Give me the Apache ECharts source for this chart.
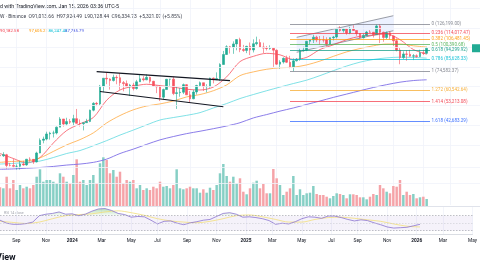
<!DOCTYPE html>
<html>
<head>
<meta charset="utf-8">
<script src="https://cdn.jsdelivr.net/npm/echarts@6/dist/echarts.min.js"></script>
<style>
  html, body { margin: 0; padding: 0; background: #fff; }
  #main { width: 480px; height: 270px; }
</style>
</head>
<body>
<div id="main"></div>
<script>
// weekly BTCUSDT, Binance — one row per week: [open, high, low, close]
const firstWeek = Date.UTC(2023, 6, 31);
const totalWeeks = 145; // 129 real weeks + empty space on the right
const candles = [
  [29230, 29750, 28580, 29040], [29040, 30240, 28700, 29410], [29410, 29690, 25170, 26100], [26100, 26830, 25800, 26090],
  [26090, 28140, 25330, 25830], [25830, 26410, 24900, 25840], [25840, 27480, 24930, 26530], [26530, 27480, 26010, 26250],
  [26250, 28050, 26000, 27970], [27970, 28580, 27170, 27920], [27920, 27990, 26540, 27150], [27150, 30400, 26960, 29980],
  [29980, 35280, 29880, 34530], [34530, 35980, 33390, 35010], [35010, 38000, 34530, 37060], [37060, 37980, 34800, 37420],
  [37420, 38440, 35630, 37450], [37450, 40250, 36870, 39970], [39970, 44700, 39970, 43790], [43790, 43800, 40220, 41380],
  [41380, 44400, 40500, 42520], [42520, 43800, 41420, 42280], [42280, 45880, 40750, 43960], [43960, 48970, 41500, 41730],
  [41730, 43580, 40280, 41580], [41580, 42200, 38560, 42030], [42030, 43880, 41880, 42580], [42580, 48590, 42260, 48300],
  [48300, 52820, 47700, 52140], [52140, 52990, 50520, 51730], [51730, 64000, 50900, 63110], [63110, 69000, 59000, 68950],
  [68950, 73780, 64550, 68390], [68390, 68920, 60760, 67210], [67210, 71770, 66480, 69650], [69650, 71300, 64500, 69360],
  [69360, 72800, 60660, 65660], [65660, 66870, 59600, 64940], [64940, 67230, 62450, 63110], [63110, 64730, 56550, 63890],
  [63890, 65500, 60190, 61480], [61480, 67700, 60750, 66270], [66270, 71950, 66100, 68510], [68510, 70600, 66600, 67760],
  [67760, 71990, 67470, 69650], [69650, 70200, 65080, 66680], [66680, 66990, 63100, 63210], [63210, 63340, 58400, 62680],
  [62680, 63800, 53480, 55850], [55850, 61400, 54260, 60790], [60790, 68400, 60630, 68170], [68170, 68480, 63400, 68250],
  [68250, 70080, 57120, 58160], [58160, 62740, 49000, 58710], [58710, 61800, 56100, 59000], [59000, 65000, 57800, 64200],
  [64200, 64500, 57200, 57300], [57300, 59800, 52550, 54850], [54850, 60650, 54560, 59160], [59160, 64100, 57500, 63600],
  [63600, 66500, 62700, 65600], [65600, 65600, 59800, 62850], [62850, 64500, 58900, 62850], [62850, 69400, 62050, 69030],
  [69030, 69500, 65100, 68000], [68000, 73600, 67500, 68740], [68740, 81500, 66800, 80370], [80370, 93480, 80200, 89850],
  [89850, 99590, 89380, 97900], [97900, 98870, 90800, 97300], [97300, 104000, 90500, 101100], [101100, 106500, 94150, 106060],
  [106060, 108350, 92200, 94900], [94900, 99960, 92500, 94000], [94000, 99000, 91200, 98400], [98400, 102700, 89250, 94500],
  [94500, 106400, 91900, 101300], [101300, 109600, 99500, 102600], [102600, 106450, 97500, 97700], [97700, 102500, 91230, 96460],
  [96460, 98800, 94000, 96100], [96100, 99500, 94800, 96250], [96250, 96500, 78250, 94270], [94270, 95000, 80000, 80700],
  [80700, 84360, 76600, 82600], [82600, 87000, 81200, 86100], [86100, 88750, 81650, 82400], [82400, 88500, 77100, 78400],
  [78400, 86100, 74508, 83700], [83700, 86400, 83100, 85200], [85200, 95750, 83900, 93700], [93700, 97900, 92800, 94300],
  [94300, 104300, 93300, 104100], [104100, 105800, 100700, 105600], [105600, 111980, 102100, 109000], [109000, 110700, 103100, 105700],
  [105700, 110400, 100400, 105600], [105600, 110600, 102700, 105500], [105500, 108900, 98200, 100900], [100900, 108500, 100300, 108400],
  [108400, 110500, 105100, 109200], [109200, 119500, 107400, 119100], [119100, 123200, 115700, 117300], [117300, 120200, 114700, 119400],
  [119400, 119800, 112000, 114200], [114200, 122300, 112700, 119300], [119300, 124500, 116800, 117400], [117400, 117600, 110600, 113500],
  [113500, 113700, 107300, 108300], [108300, 113400, 107300, 111150], [111150, 116800, 110600, 115300], [115300, 117900, 114700, 115200],
  [115200, 115400, 108600, 112100], [112100, 125700, 111600, 123500], [123500, 126199, 102000, 115100], [115100, 115900, 103500, 108600],
  [108600, 116000, 106700, 114500], [114500, 116400, 106300, 110500], [110500, 110600, 98900, 104700], [104700, 107500, 93000, 94300],
  [94300, 96600, 80600, 86800], [86800, 93100, 85300, 90400], [90400, 94200, 83800, 90000], [90000, 94600, 87600, 88200],
  [88200, 90300, 84400, 88600], [88600, 90000, 86600, 87800], [87800, 94800, 87200, 91500], [91500, 94700, 89300, 91013.66],
  [91013.66, 97924.49, 90128.44, 96334.73]
];
// weekly volume, thousand BTC
const volumes = [
  187, 177, 293, 177, 260, 160, 210, 177, 193, 177, 210, 293, 367, 243, 260, 260, 243, 227, 327, 293,
  243, 227, 310, 467, 243, 260, 210, 260, 310, 227, 427, 487, 460, 327, 360, 293, 343, 227, 260, 243,
  260, 177, 210, 160, 177, 160, 193, 177, 243, 193, 200, 177, 210, 367, 177, 167, 177, 193, 177, 177,
  133, 167, 133, 183, 160, 210, 327, 420, 300, 243, 293, 227, 277, 143, 117, 177, 233, 253, 177, 220,
  127, 127, 370, 277, 210, 110, 143, 177, 300, 110, 167, 110, 127, 133, 200, 120, 110, 110, 93, 77,
  100, 127, 120, 110, 77, 117, 117, 110, 87, 87, 67, 93, 120, 110, 210, 177, 143, 127, 200, 193,
  260, 110, 143, 110, 120, 77, 87, 93, 70
];
// moving averages read every 4 weeks
const maStep = 4;
const maRed = [29800, 28200, 26800, 28500, 33500, 38500, 41500, 44500, 54000, 60500, 63000, 64500, 63500, 62500, 61000, 60500, 62500,
  70000, 83000, 88000, 91000, 89500, 85000, 87000, 95000, 100000, 106000, 110000, 111500, 113000, 106000, 95000, 90182.58];
const maOrange = [27000, 27300, 27400, 28400, 30500, 32800, 34800, 37500, 41900, 45500, 48500, 50600, 51800, 53500, 56000, 57500, 60000,
  64000, 71000, 74000, 76200, 77500, 78000, 80000, 83500, 88000, 92500, 96000, 99000, 101000, 101000, 99000, 97605.21];
const maCyan = [26500, 26700, 27000, 27400, 28500, 29800, 30800, 32500, 34400, 36600, 38700, 41000, 43300, 44500, 45600, 47000, 49500,
  52000, 55000, 57500, 60000, 62500, 65000, 67500, 71000, 75000, 79000, 82500, 85000, 86500, 87200, 87000, 86247.43];
const maPurple = [25000, 25100, 25300, 25500, 25800, 26200, 26500, 27000, 28000, 29800, 31300, 33000, 34700, 36000, 37200, 38200, 39300,
  40500, 42000, 44300, 46000, 47800, 49500, 51500, 53500, 55700, 57800, 60000, 62200, 64200, 66000, 67200, 67785.79];
// RSI read every 2 weeks, its moving average every 4 weeks
const rsiStep = 2;
const rsiValues = [58, 50, 47, 47, 49, 53, 70, 74, 76, 80, 74, 75, 70, 74, 82, 88, 89, 84, 76, 73, 66, 68, 67, 58, 48, 55, 56, 50, 46,
  51, 54, 58, 60, 68, 76, 78, 74, 66, 67, 65, 62, 57, 47, 50, 48, 54, 62, 67, 66, 63, 69, 69, 65, 60, 56, 59, 57, 51, 46, 40, 37, 38,
  39, 43, 47];
const rsiMaStep = 4;
const rsiMa = [55, 52, 49, 53, 62, 70, 73, 75, 80, 83, 78, 71, 62, 56, 53, 51, 55, 62, 70, 72, 67, 60, 53, 53, 60, 65, 66, 63, 59, 55,
  48, 42, 40];
// fibonacci levels (from the Apr 2025 low to the Oct 2025 high)
const fibLevels = ['0', '0.236', '0.382', '0.5', '0.618', '0.786', '1', '1.272', '1.414', '1.618'];
const fibPrices = [126199.00, 114017.47, 106481.45, 100390.68, 94299.92, 85628.33, 74582.37, 60542.64, 53213.08, 42683.29];
const fibColors = ['#787b86', '#f23645', '#ff9800', '#4caf50', '#089981', '#00bcd4', '#787b86', '#f5a623', '#f23645', '#2962ff'];
const fibFrom = 87, fibTo = 129;
// hand drawn lines: [week index, price]
const flagUpper = [[29, 74300], [69, 67100]];
const flagLower = [[30, 59500], [67, 50200]];
const channelUpper = [[89, 108800], [118, 138400]];
const channelLower = [[89, 92100], [118, 117100]];
const priceGrid = [21400, 25700, 32800, 41000, 50800, 63000, 78000, 97000, 121000, 150000];
const monthNames = ['Jan', 'Feb', 'Mar', 'Apr', 'May', 'Jun', 'Jul', 'Aug', 'Sep', 'Oct', 'Nov', 'Dec'];

const weeks = [];
for (let i = 0; i < totalWeeks; i++) {
  weeks.push(new Date(firstWeek + i * 7 * 864e5).toISOString().slice(0, 10));
}
const monthOf = i => Number(weeks[i].slice(5, 7)) - 1;
const isTick = i => i > 0 && monthOf(i) !== monthOf(i - 1) && monthOf(i) % 2 === 0;

const upColor = '#22ab94', downColor = '#f7525f';
const fmt = v => v.toLocaleString('en-US', {minimumFractionDigits: 2, maximumFractionDigits: 2});
const stepped = (arr, step) => arr.map((v, k) => [k * step, v]);

var chartDom = document.getElementById('main');
var myChart = echarts.init(chartDom);
var option;

const baseX = {
  type: 'category', data: weeks, boundaryGap: false,
  axisLine: {show: false}, axisTick: {show: false}, axisLabel: {show: false},
  splitLine: {show: true, interval: idx => isTick(idx), lineStyle: {color: '#f0f3fa', width: 0.8}}
};

const fibMarks = fibPrices.map((p, k) => [
  {
    coord: [fibFrom, p],
    lineStyle: {color: fibColors[k], width: 0.8, type: 'solid', opacity: 0.9},
    label: {show: true, position: 'end', distance: 1.5, formatter: fibLevels[k] + ' (' + fmt(p) + ')',
      color: fibColors[k], fontSize: 4.6, fontFamily: 'Roboto'}
  },
  {coord: [fibTo, p]}
]);
const gridMarks = priceGrid.map(p => [
  {coord: [0, p], lineStyle: {color: '#f0f3fa', width: 0.8, type: 'solid'}, label: {show: false}},
  {coord: [totalWeeks - 1, p]}
]);
const drawnMarks = [flagUpper, flagLower].map(l => [
  {coord: l[0], lineStyle: {color: '#131722', width: 1.2, type: 'solid'}, label: {show: false}},
  {coord: l[1]}
]);

option = {
  animation: false,
  backgroundColor: '#ffffff',
  grid: [
    {left: 0, top: 0, width: 483.4, height: 205},
    {left: 0, top: 106, width: 483.4, height: 100},
    {left: 0, top: 207, width: 483.4, height: 27}
  ],
  xAxis: [
    Object.assign({gridIndex: 0}, baseX),
    Object.assign({}, baseX, {gridIndex: 1, splitLine: {show: false}}),
    Object.assign({}, baseX, {
      gridIndex: 2,
      axisLine: {show: true, lineStyle: {color: '#d1d4dc', width: 0.8}},
      axisLabel: {
        show: true, interval: idx => isTick(idx), margin: 4, fontSize: 4.8, color: '#131722', fontFamily: 'Roboto',
        formatter: v => {
          const m = Number(v.slice(5, 7)) - 1;
          return m === 0 ? '{y|' + v.slice(0, 4) + '}' : monthNames[m];
        },
        rich: {y: {fontSize: 4.8, fontWeight: 'bold', color: '#131722', fontFamily: 'Roboto'}}
      }
    })
  ],
  yAxis: [
    {gridIndex: 0, type: 'log', logBase: 10, min: 16790, max: 164910, show: false},
    {gridIndex: 1, type: 'value', min: 0, max: 1000, show: false},
    {gridIndex: 2, type: 'value', min: 21.2, max: 93.2, show: false}
  ],
  series: [
    {
      name: 'Volume', type: 'bar', xAxisIndex: 1, yAxisIndex: 1, barWidth: '74%', z: 1,
      data: volumes.map((v, i) => ({
        value: v,
        itemStyle: {color: candles[i][3] >= candles[i][0] ? '#86cfc5' : '#f5a3a8'}
      }))
    },
    {
      name: 'Channel', type: 'custom', xAxisIndex: 0, yAxisIndex: 0, z: 3,
      data: [[channelUpper[0][0], channelUpper[0][1], channelLower[0][1], channelUpper[1][0], channelUpper[1][1], channelLower[1][1]]],
      encode: {x: 0, y: 1},
      renderItem: (params, api) => {
        const a = api.coord([api.value(0), api.value(1)]);
        const b = api.coord([api.value(3), api.value(4)]);
        const c = api.coord([api.value(3), api.value(5)]);
        const d = api.coord([api.value(0), api.value(2)]);
        return {
          type: 'group', children: [
            {type: 'polygon', shape: {points: [a, b, c, d]}, style: {fill: 'rgba(41,98,255,0.09)'}},
            {type: 'line', shape: {x1: a[0], y1: a[1], x2: b[0], y2: b[1]}, style: {stroke: '#80848e', lineWidth: 0.8}},
            {type: 'line', shape: {x1: d[0], y1: d[1], x2: c[0], y2: c[1]}, style: {stroke: '#80848e', lineWidth: 0.8}}
          ]
        };
      }
    },
    {
      name: 'BTCUSDT', type: 'candlestick', xAxisIndex: 0, yAxisIndex: 0, barWidth: '66%', z: 4,
      data: candles.map(c => [c[0], c[3], c[2], c[1]]),
      itemStyle: {color: upColor, color0: downColor, borderColor: upColor, borderColor0: downColor, borderWidth: 0.6},
      markLine: {
        silent: true, symbol: 'none', animation: false,
        data: gridMarks.concat(fibMarks, drawnMarks)
      },
      markPoint: {
        silent: true,
        data: [{coord: [totalWeeks - 1, candles[candles.length - 1][3]], symbol: 'rect', symbolSize: [16, 8],
          itemStyle: {color: upColor}, label: {show: false}}]
      }
    },
    {name: 'MA1', type: 'line', xAxisIndex: 0, yAxisIndex: 0, smooth: 0.3, showSymbol: false, z: 3,
      data: stepped(maRed, maStep), lineStyle: {color: '#f7525f', width: 0.8}},
    {name: 'MA2', type: 'line', xAxisIndex: 0, yAxisIndex: 0, smooth: 0.3, showSymbol: false, z: 3,
      data: stepped(maOrange, maStep), lineStyle: {color: '#ffa940', width: 0.8}},
    {name: 'MA3', type: 'line', xAxisIndex: 0, yAxisIndex: 0, smooth: 0.3, showSymbol: false, z: 3,
      data: stepped(maCyan, maStep), lineStyle: {color: '#5fd9e0', width: 0.8}},
    {name: 'MA4', type: 'line', xAxisIndex: 0, yAxisIndex: 0, smooth: 0.3, showSymbol: false, z: 3,
      data: stepped(maPurple, maStep), lineStyle: {color: '#7e6ee6', width: 0.9}},
    {
      name: 'RSI hot', type: 'line', xAxisIndex: 2, yAxisIndex: 2, showSymbol: false, z: 2,
      data: stepped(rsiValues.map(v => Math.max(v, 70)), rsiStep),
      lineStyle: {width: 0},
      areaStyle: {origin: 70, color: new echarts.graphic.LinearGradient(0, 0, 0, 1, [
        {offset: 0, color: 'rgba(76,175,80,0.55)'}, {offset: 1, color: 'rgba(76,175,80,0.05)'}
      ])}
    },
    {
      name: 'RSI MA', type: 'line', xAxisIndex: 2, yAxisIndex: 2, smooth: 0.3, showSymbol: false, z: 3,
      data: stepped(rsiMa, rsiMaStep), lineStyle: {color: '#f3de7a', width: 0.8}
    },
    {
      name: 'RSI', type: 'line', xAxisIndex: 2, yAxisIndex: 2, showSymbol: false, z: 4,
      data: stepped(rsiValues, rsiStep), lineStyle: {color: '#8c74d0', width: 0.8},
      markArea: {silent: true, itemStyle: {color: 'rgba(126,87,194,0.08)'}, data: [[{yAxis: 30}, {yAxis: 70}]]},
      markLine: {
        silent: true, symbol: 'none', label: {show: false},
        lineStyle: {color: '#9598a1', width: 0.6, type: [1.5, 1.5]},
        data: [{yAxis: 70}, {yAxis: 50, lineStyle: {color: '#c9cbd1'}}, {yAxis: 30}]
      }
    }
  ],
  graphic: [
    {type: 'line', shape: {x1: 0, y1: 206.5, x2: 480, y2: 206.5}, style: {stroke: '#e0e3eb', lineWidth: 1}, silent: true},
    {type: 'text', x: 0, y: 7, style: {text: 'd with TradingView.com, Jan 15, 2026 03:36 UTC-5', font: '5.3px Roboto', fill: '#131722', verticalAlign: 'middle'}},
    {type: 'text', x: 0, y: 17, style: {text: 'W \u00b7 Binance  O91,013.66  H97,924.49  L90,128.44  C96,334.73  +5,321.07 (+5.85%)', font: '5px Roboto', fill: '#3a3e4a', verticalAlign: 'middle'}},
    {type: 'text', x: 0, y: 31, style: {text: fmt(maRed[maRed.length - 1]), font: '4.3px Roboto', fill: '#f23645', verticalAlign: 'middle'}},
    {type: 'text', x: 29, y: 31, style: {text: fmt(maOrange[maOrange.length - 1]), font: '4.3px Roboto', fill: '#ff9800', verticalAlign: 'middle'}},
    {type: 'text', x: 48.5, y: 31, style: {text: fmt(maCyan[maCyan.length - 1]), font: '4.3px Roboto', fill: '#00bcd4', verticalAlign: 'middle'}},
    {type: 'text', x: 65, y: 31, style: {text: fmt(maPurple[maPurple.length - 1]), font: '4.3px Roboto', fill: '#3f51e0', verticalAlign: 'middle'}},
    {type: 'text', x: 4, y: 213.5, style: {text: 'RSI 14 close', font: '3.6px Roboto', fill: '#a3a6af', verticalAlign: 'middle'}},
    {type: 'text', x: -4, y: 258, style: {text: 'View', font: 'bold 9px Roboto', fill: '#131722', verticalAlign: 'middle'}}
  ]
};

option && myChart.setOption(option);
</script>
</body>
</html>
